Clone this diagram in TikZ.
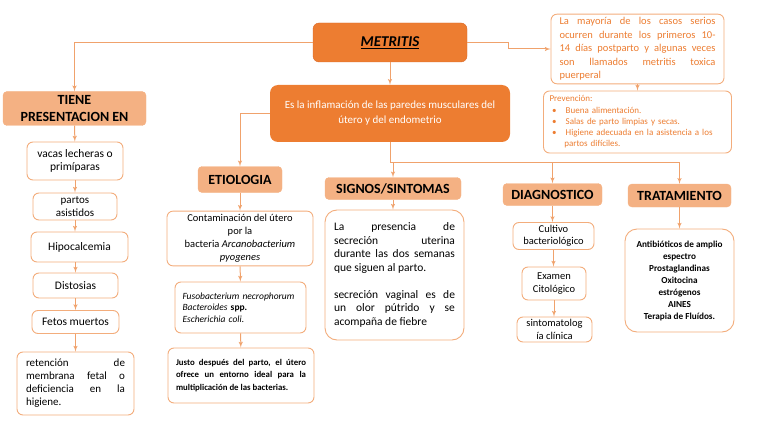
\documentclass[tikz,border=0pt]{standalone}
\usepackage{fontspec}
\setmainfont{Carlito}
\usetikzlibrary{arrows,positioning,shapes}
\definecolor{orgdark}{HTML}{ED7D31}
\definecolor{orgedge}{HTML}{D9692A}
\definecolor{orglight}{HTML}{F4B183}
\definecolor{orgline}{HTML}{F0A26C}
\definecolor{orgbox}{HTML}{F3AD7C}
\hyphenpenalty=10000
\tolerance=9999
\newcommand{\fsz}[2]{\fontsize{#1}{#2}\selectfont}
\tikzset{%
	topic/.style  = {draw=orgedge, fill=orgdark, rounded corners=6pt, font=\fsz{15}{18}\bfseries\itshape},
	defin/.style  = {fill=orgdark, rounded corners=8pt, text=white, align=center, font=\fsz{11}{15}},
	header/.style = {draw=orglight, fill=orglight, rounded corners=4pt, inner sep=2pt, align=center, font=\fsz{14}{17}\bfseries},
	leaf/.style   = {draw=orgbox, line width=0.9pt, fill=white, rounded corners=6pt, align=center, font=\fsz{11.5}{13.5}},
	note/.style   = {leaf, text=orgdark},
	link/.style   = {draw=orgline, line width=1pt},
	arrow/.style  = {link, ->},
}

\begin{document}
\begin{tikzpicture}[x=1pt,y=-1pt,>=latex']
	\useasboundingbox (0,0) rectangle (768,433);
	% centro
	\node [topic, minimum width=154pt, minimum height=39pt] (metritis) at (390,42.5) {\underline{METRITIS}};
	\node [defin, minimum width=240pt, minimum height=57pt] (definicion) at (390,113.5) {Es la inflamación de las paredes musculares del\\útero y del endometrio};
	\node [note, minimum width=173pt, minimum height=68pt, text width=156pt, align=justify, font=\fsz{10.5}{13.5}] (serios) at (637.5,49) {La mayoría de los casos serios\linebreak ocurren durante los primeros 10-\linebreak 14 días postparto y algunas veces\linebreak son llamados metritis toxica\linebreak puerperal};
	\node [note, minimum width=188pt, minimum height=62pt, text width=176pt, align=left, font=\fsz{9}{11.3}] (prevencion) at (637.5,122) {Prevención:\\\hspace{0.3em}\textbullet\hspace{1em}Buena alimentación.\\\hspace{0.3em}\textbullet\hspace{1em}Salas de parto limpias y secas.\\\hspace{0.3em}\textbullet\hspace{1em}Higiene adecuada en la asistencia a los\\\hspace{1.65em}partos difíciles.};
	
	% titulos
	\node [header, minimum width=143pt, minimum height=34pt] (tiene) at (74.5,108.5) {TIENE\\PRESENTACION EN};
	\node [header, minimum width=84pt, minimum height=26pt] (etiologia) at (240,179.5) {ETIOLOGIA};
	\node [header, minimum width=136pt, minimum height=22pt] (signos) at (393,188.5) {SIGNOS/SINTOMAS};
	\node [header, minimum width=99pt, minimum height=22pt] (diagnostico) at (552.5,194.5) {DIAGNOSTICO};
	\node [header, minimum width=103pt, minimum height=23pt] (tratamiento) at (679.5,195.5) {TRATAMIENTO};
	
	% presentacion
	\node [leaf, minimum width=96pt, minimum height=38pt] (vacas) at (75,161) {vacas lecheras o\\primíparas};
	\node [leaf, minimum width=84pt, minimum height=27pt, inner ysep=1pt, font=\fsz{11}{12.5}] (partos) at (75,206.5) {partos\\asistidos};
	\node [leaf, minimum width=97pt, minimum height=30pt] (hipo) at (79.5,247) {Hipocalcemia};
	\node [leaf, minimum width=85pt, minimum height=25pt] (disto) at (75.5,285.5) {Distosias};
	\node [leaf, minimum width=87pt, minimum height=23pt] (fetos) at (75.5,322) {Fetos muertos};
	\node [leaf, minimum width=117pt, minimum height=63pt, text width=99pt, align=justify, font=\fsz{11}{13}] (retencion) at (75.5,383.5) {retención de\linebreak membrana fetal o\linebreak deficiencia en la\linebreak higiene.};
	
	% etiologia
	\node [leaf, minimum width=146pt, minimum height=53pt, font=\fsz{10.5}{13}] (contam) at (240,238.5) {Contaminación del útero\\por la\\bacteria \textit{Arcanobacterium}\\\textit{pyogenes}};
	\node [leaf, minimum width=131pt, minimum height=51pt, text width=116pt, align=left, font=\fsz{9.5}{11.5}] (fuso) at (240.5,307.5) {\textit{Fusobacterium necrophorum}\\\textit{Bacteroides} \textbf{spp.}\\\textit{Escherichia coli.}};
	\node [leaf, minimum width=146pt, minimum height=55pt, text width=130pt, align=justify, font=\fsz{8.8}{12.5}\bfseries] (justo) at (241,375.5) {Justo después del parto, el útero\linebreak ofrece un entorno ideal para la\linebreak multiplicación de las bacterias.};
	
	% signos
	\node [leaf, minimum width=139pt, minimum height=130pt, text width=121pt, align=justify, rounded corners=12pt, font=\fsz{11.5}{13.5}] (presencia) at (394.5,275) {La presencia de\linebreak secreción uterina\linebreak durante las dos semanas\linebreak que siguen al parto.\\[13.5pt]secreción vaginal es de\linebreak un olor pútrido y se\linebreak acompaña de fiebre};
	
	% diagnostico
	\node [leaf, minimum width=81pt, minimum height=27pt, inner ysep=1pt, font=\fsz{10.5}{12.5}] (cultivo) at (553.5,236) {Cultivo\\bacteriológico};
	\node [leaf, minimum width=64pt, minimum height=33pt, font=\fsz{10.5}{13}] (examen) at (554,283.5) {Examen\\Citológico};
	\node [leaf, minimum width=75pt, minimum height=25pt, inner ysep=1pt, font=\fsz{10.5}{12.5}] (sintoma) at (554.5,329.5) {sintomatolog\\ía clínica};
	
	% tratamiento
	\node [leaf, minimum width=109pt, minimum height=103pt, rounded corners=12pt, font=\fsz{9.2}{12}\bfseries] (farmacos) at (679.5,280.5) {Antibióticos de amplio\\espectro\\Prostaglandinas\\Oxitocina\\estrógenos\\AINES\\Terapia de Fluídos.};
	
	\coordinate (cruce) at (390,162);
	
	\draw[arrow] (metritis.west) -| (tiene.north);
	\draw[arrow] (metritis.east) -- ++(41,0) |- (serios.west);
	\draw[arrow] (metritis) -- (definicion);
	\draw[arrow] (serios) -- (prevencion);
	\draw[arrow] (definicion.west) -| (etiologia.north);
	\draw[link] (definicion.south) -- (cruce);
	\draw[arrow] (cruce) -| (tratamiento.north);
	\draw[arrow] (cruce -| signos.north) -- (signos.north);
	\draw[arrow] (cruce -| diagnostico.north) -- (diagnostico.north);
	
	\draw[arrow] (tiene) -- (vacas);
	\draw[arrow] (vacas) -- (partos);
	\draw[arrow] (partos) -- (partos |- hipo.north);
	\draw[arrow] (hipo.south -| disto.north) -- (disto.north);
	\draw[arrow] (disto) -- (fetos);
	\draw[arrow] (fetos) -- (retencion);
	
	\draw[arrow] (etiologia) -- (contam);
	\draw[arrow] (contam) -- (fuso);
	\draw[arrow] (fuso) -- (justo);
	
	\draw[arrow] (signos) -- (signos |- presencia.north);
	
	\draw[arrow] (diagnostico) -- (diagnostico |- cultivo.north);
	\draw[arrow] (cultivo) -- (cultivo |- examen.north);
	\draw[arrow] (examen) -- (examen |- sintoma.north);
	
	\draw[arrow] (tratamiento) -- (farmacos);
\end{tikzpicture}
\end{document}
